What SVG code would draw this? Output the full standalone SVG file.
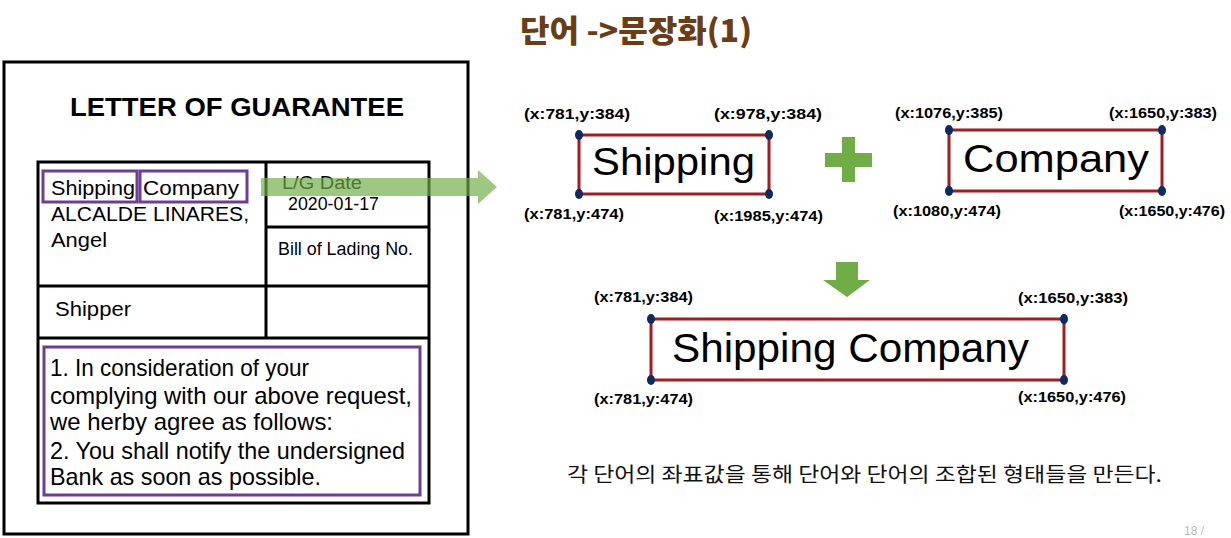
<svg xmlns="http://www.w3.org/2000/svg" width="1231" height="538" viewBox="0 0 1231 538">
<style>
.doc{font-family:"Liberation Sans",Arial,sans-serif;fill:#000;}
.cell{fill:none;stroke:#000;stroke-width:3;}
.pbox{fill:none;stroke:#6c3f93;stroke-width:3;}
.rbox{fill:none;stroke:#a01d24;stroke-width:3;}
.dot{fill:#0f2a5e;}
.coord{font-family:"Liberation Sans",Arial,sans-serif;font-weight:bold;font-size:15px;fill:#000;}
.word{font-family:"Liberation Sans",Arial,sans-serif;fill:#000;}
.green{fill:#70ad47;}
</style>
<rect width="1231" height="538" fill="#fff"/>
<text x="636" y="42" text-anchor="middle" font-family="'Noto Sans CJK KR',sans-serif" font-weight="900" font-size="31" fill="#6b3d16" textLength="232" lengthAdjust="spacingAndGlyphs">단어 -&gt;문장화(1)</text>

<g id="document">
<rect class="cell" x="4" y="62" width="464" height="472"/>
<text class="doc" x="237" y="116" text-anchor="middle" font-size="25" font-weight="bold" textLength="334" lengthAdjust="spacingAndGlyphs">LETTER OF GUARANTEE</text>
<rect class="cell" x="38" y="162" width="391" height="341"/>
<line class="cell" x1="266" y1="162" x2="266" y2="338"/>
<line class="cell" x1="38" y1="286" x2="266" y2="286"/>
<line class="cell" x1="266" y1="227" x2="429" y2="227"/>
<line class="cell" x1="38" y1="338" x2="429" y2="338"/>
<line class="cell" x1="266" y1="286" x2="429" y2="286"/>
<text class="doc" x="51" y="195" font-size="20" textLength="84" lengthAdjust="spacingAndGlyphs">Shipping</text>
<text class="doc" x="143" y="195" font-size="20" textLength="96" lengthAdjust="spacingAndGlyphs">Company</text>
<rect class="pbox" x="43" y="171" width="94" height="31"/>
<rect class="pbox" x="140" y="171" width="107" height="31"/>
<text class="doc" x="51" y="221" font-size="20" textLength="198" lengthAdjust="spacingAndGlyphs">ALCALDE LINARES,</text>
<text class="doc" x="51" y="247" font-size="20" textLength="56" lengthAdjust="spacingAndGlyphs">Angel</text>
<text class="doc" x="282" y="189" font-size="18" textLength="80" lengthAdjust="spacingAndGlyphs">L/G Date</text>
<text class="doc" x="288" y="210" font-size="18" textLength="91" lengthAdjust="spacingAndGlyphs">2020-01-17</text>
<text class="doc" x="278" y="255" font-size="18" textLength="135" lengthAdjust="spacingAndGlyphs">Bill of Lading No.</text>
<text class="doc" x="55" y="316" font-size="20" textLength="76" lengthAdjust="spacingAndGlyphs">Shipper</text>
<rect class="pbox" x="44" y="347" width="376" height="148"/>
<text class="doc" x="50" y="376" font-size="24" textLength="259" lengthAdjust="spacingAndGlyphs">1. In consideration of your</text>
<text class="doc" x="50" y="404" font-size="24" textLength="362" lengthAdjust="spacingAndGlyphs">complying with our above request,</text>
<text class="doc" x="50" y="430" font-size="24" textLength="283" lengthAdjust="spacingAndGlyphs">we herby agree as follows:</text>
<text class="doc" x="50" y="459" font-size="24" textLength="355" lengthAdjust="spacingAndGlyphs">2. You shall notify the undersigned</text>
<text class="doc" x="50" y="485" font-size="24" textLength="271" lengthAdjust="spacingAndGlyphs">Bank as soon as possible.</text>
</g>

<g id="connectors">
<polygon class="green" opacity="0.68" points="261,178 478,178 478,170 497,187 478,204 478,196 261,196"/>
<g id="plus">
<rect class="green" x="842" y="137" width="13" height="45"/>
<rect class="green" x="825" y="153" width="47" height="14"/>
</g>
<polygon class="green" points="836,262 858,262 858,280 870,280 847,297 823,280 836,280"/>
</g>

<g id="shipping">
<rect class="rbox" x="579" y="135" width="190" height="59"/>
<text class="word" x="592" y="175" font-size="38" textLength="163" lengthAdjust="spacingAndGlyphs">Shipping</text>
<ellipse class="dot" cx="579" cy="135" rx="4" ry="5"/>
<ellipse class="dot" cx="769" cy="135" rx="4" ry="5"/>
<ellipse class="dot" cx="579" cy="194" rx="4" ry="5"/>
<ellipse class="dot" cx="769" cy="194" rx="4" ry="5"/>
<text class="coord" x="524" y="119" textLength="106" lengthAdjust="spacingAndGlyphs">(x:781,y:384)</text>
<text class="coord" x="714" y="119" textLength="108" lengthAdjust="spacingAndGlyphs">(x:978,y:384)</text>
<text class="coord" x="524" y="219" textLength="100" lengthAdjust="spacingAndGlyphs">(x:781,y:474)</text>
<text class="coord" x="714" y="221" textLength="109" lengthAdjust="spacingAndGlyphs">(x:1985,y:474)</text>
</g>

<g id="company">
<rect class="rbox" x="949" y="130" width="213" height="61"/>
<text class="word" x="963" y="172" font-size="38" textLength="186" lengthAdjust="spacingAndGlyphs">Company</text>
<ellipse class="dot" cx="949" cy="130" rx="4" ry="5"/>
<ellipse class="dot" cx="1162" cy="130" rx="4" ry="5"/>
<ellipse class="dot" cx="949" cy="191" rx="4" ry="5"/>
<ellipse class="dot" cx="1162" cy="191" rx="4" ry="5"/>
<text class="coord" x="895" y="118" textLength="108" lengthAdjust="spacingAndGlyphs">(x:1076,y:385)</text>
<text class="coord" x="1109" y="118" textLength="108" lengthAdjust="spacingAndGlyphs">(x:1650,y:383)</text>
<text class="coord" x="893" y="216" textLength="108" lengthAdjust="spacingAndGlyphs">(x:1080,y:474)</text>
<text class="coord" x="1119" y="216" textLength="106" lengthAdjust="spacingAndGlyphs">(x:1650,y:476)</text>
</g>

<g id="combined">
<rect class="rbox" x="651" y="319" width="413" height="61"/>
<text class="word" x="672" y="362" font-size="40" textLength="357" lengthAdjust="spacingAndGlyphs">Shipping Company</text>
<ellipse class="dot" cx="651" cy="319" rx="4" ry="5"/>
<ellipse class="dot" cx="1064" cy="319" rx="4" ry="5"/>
<ellipse class="dot" cx="651" cy="380" rx="4" ry="5"/>
<ellipse class="dot" cx="1064" cy="380" rx="4" ry="5"/>
<text class="coord" x="594" y="302" textLength="99" lengthAdjust="spacingAndGlyphs">(x:781,y:384)</text>
<text class="coord" x="1018" y="303" textLength="110" lengthAdjust="spacingAndGlyphs">(x:1650,y:383)</text>
<text class="coord" x="594" y="404" textLength="99" lengthAdjust="spacingAndGlyphs">(x:781,y:474)</text>
<text class="coord" x="1018" y="402" textLength="108" lengthAdjust="spacingAndGlyphs">(x:1650,y:476)</text>
</g>

<text x="567" y="482" font-family="'Noto Sans CJK KR',sans-serif" font-size="20" fill="#111" textLength="595" lengthAdjust="spacingAndGlyphs">각 단어의 좌표값을 통해 단어와 단어의 조합된 형태들을 만든다.</text>
<text x="1184" y="535" font-family="'Liberation Sans',Arial,sans-serif" font-size="12" fill="#bbb">18  /</text>
</svg>
